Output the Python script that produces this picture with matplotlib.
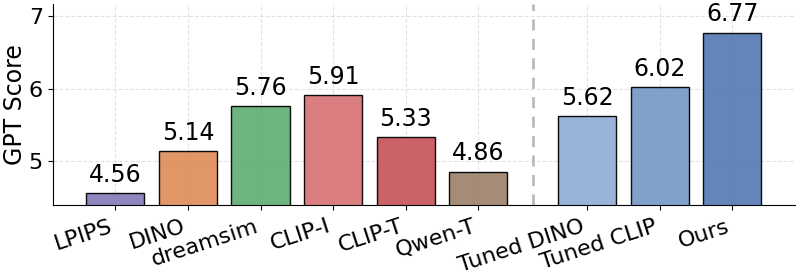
import matplotlib
matplotlib.use("Agg")
import matplotlib.pyplot as plt

# GPT score per metric
BASELINES = ["LPIPS", "DINO", "dreamsim", "CLIP-I", "CLIP-T", "Qwen-T"]
BASELINE_SCORES = [4.56, 5.14, 5.76, 5.91, 5.33, 4.86]
OURS_GROUP = ["Tuned DINO", "Tuned CLIP", "Ours"]
OURS_SCORES = [5.62, 6.02, 6.77]

BASELINE_COLORS = ["#8b7fba", "#e0905f", "#64b178", "#d8777b", "#c95a5f", "#a08670"]
OURS_COLORS = ["#94b0d6", "#7a9cc8", "#5b7eb6"]


def main():
    fig, ax = plt.subplots(figsize=(7.96, 2.8), dpi=100)
    fig.subplots_adjust(left=0.066, right=0.999, top=0.986, bottom=0.268)

    gap = 0.5
    x_base = list(range(len(BASELINES)))
    x_ours = [len(BASELINES) + gap + i for i in range(len(OURS_GROUP))]

    xs = x_base + x_ours
    labels = BASELINES + OURS_GROUP
    scores = BASELINE_SCORES + OURS_SCORES
    colors = BASELINE_COLORS + OURS_COLORS

    ax.bar(xs, scores, width=0.8, color=colors, edgecolor="black",
           linewidth=1.0, alpha=0.95, zorder=2)

    for x, v in zip(xs, scores):
        ax.text(x, v + 0.09, f"{v:.2f}", ha="center", va="bottom", fontsize=17)

    # separator between baselines and our variants
    sep = (x_base[-1] + x_ours[0]) / 2
    ax.axvline(sep, color="#bbbbbb", linestyle=(0, (4, 3)), linewidth=2, zorder=1)

    ax.set_ylim(4.4, 7.17)
    ax.set_yticks([5, 6, 7])
    ax.set_ylabel("GPT Score", fontsize=17, labelpad=1)
    ax.set_xticks(xs)
    ax.set_xticklabels(labels, rotation=18, ha="right", fontsize=16)
    ax.tick_params(axis="y", labelsize=16)
    ax.tick_params(axis="x", pad=4.5)
    ax.grid(True, linestyle="--", alpha=0.35, zorder=0)
    ax.set_axisbelow(True)
    ax.spines["top"].set_visible(False)
    ax.spines["right"].set_visible(False)

    fig.savefig("out.png", dpi=100)
    plt.close(fig)


if __name__ == "__main__":
    main()
